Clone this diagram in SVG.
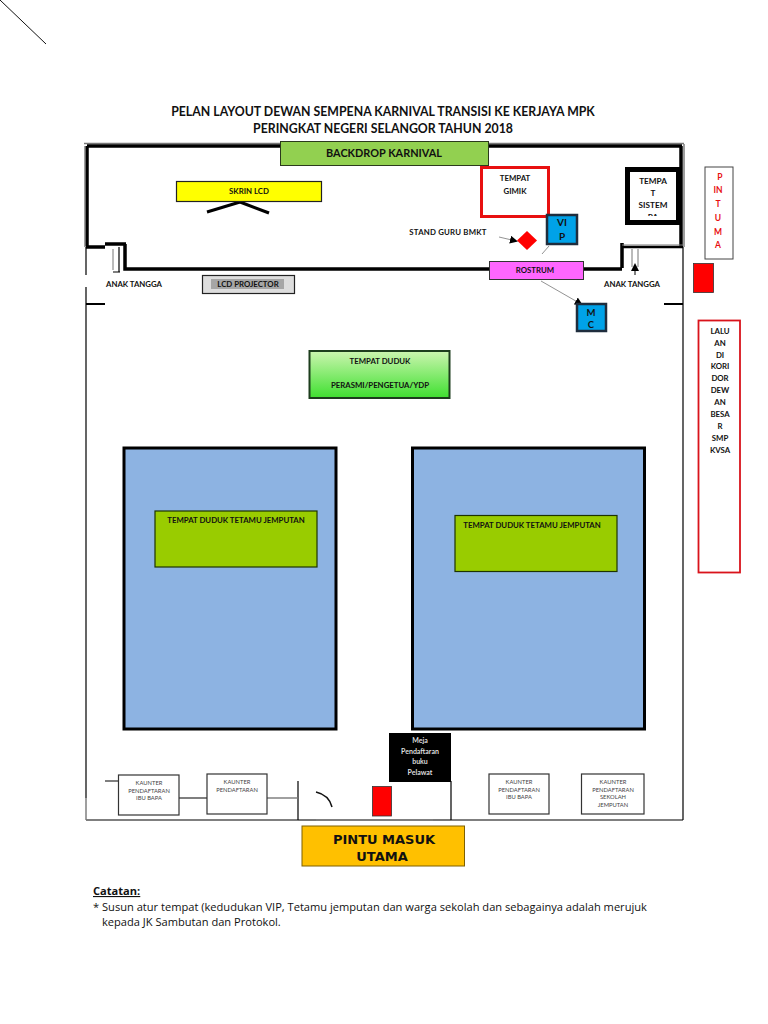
<svg xmlns="http://www.w3.org/2000/svg" width="768" height="1024" viewBox="0 0 768 1024">
<style>
text{font-family:"Lato","Liberation Sans",sans-serif;text-anchor:middle;fill:#111}
.b{font-weight:700}
.w{stroke:#000;fill:none;stroke-width:4}
.t{stroke:#000;fill:none;stroke-width:1.2}
.g{stroke:#777;fill:none;stroke-width:1.4}
.k{fill:#fff;stroke:#333;stroke-width:1.2}
.kt{font-size:5.8px;fill:#444}
.sm{font-size:7.800px;font-weight:700}
.hall{fill:#8db3e2;stroke:#000;stroke-width:3}
.seat{fill:#99cc00;stroke:#1d3300;stroke-width:1.2}
.blue{fill:#00a2e8;stroke:#1f2d3d;stroke-width:2.5}
.cat{text-anchor:start;font-family:"Open Sans",sans-serif;font-size:11.100px}
.red{fill:#e81010}
.mj{fill:#ddd}
.dj{font-family:"DejaVu Sans",sans-serif}
</style>
<defs>
<marker id="a" markerWidth="8" markerHeight="8" refX="6" refY="4" orient="auto" markerUnits="userSpaceOnUse"><path d="M0 0L8 4L0 8Z" fill="#000"/></marker>
<clipPath id="c"><rect x="630" y="172" width="47" height="44"/></clipPath>
<linearGradient id="gr" x1="0" y1="0" x2="0" y2="1"><stop offset="0" stop-color="#ccf5b0"/><stop offset="1" stop-color="#3fe030"/></linearGradient>
</defs>
<g id="connectors">
<line x1="0" y1="0" x2="46" y2="44" stroke="#111" stroke-width="1"/>
<path class="g" d="M84 143.500H280M489 143.500H684"/>
<path class="w" style="stroke-width:3.500" d="M87 146H280M489 146H682M87 146V246M681 146V247"/>
<path class="g" d="M85 146V247M684 144V247"/>
<path class="w" style="stroke-width:3.500" d="M86 247H105M105 244H126M125 244V269H622M622 243V268"/>
<path class="w" style="stroke-width:2.500" d="M622 247H683"/>
<path class="g" style="stroke-width:1" d="M622 245H683M113 249V270M632 249V267M638 249V267"/>
<path class="t" d="M119 247V272M113 272H120"/>
<path class="t" d="M86 247V275M86 287V798M86 820H683M683 247V820"/>
<path class="g" d="M86 798V820M298 820H316M433 820H451"/>
<path class="t" style="stroke-width:2" d="M86 304H105M664 304H683"/>
<path class="t" d="M105 781H119M179 798H207M298 781V820M451 781V820"/>
<path class="g" d="M267 798H298"/>
<path d="M316 792Q329 795 332 807" fill="none" stroke="#111" stroke-width="1.500"/>
<line x1="207" y1="212" x2="240" y2="202" stroke="#000" stroke-width="3"/>
<line x1="240" y1="202" x2="269" y2="213" stroke="#000" stroke-width="3"/>
<line x1="499" y1="237" x2="516" y2="241" stroke="#777" stroke-width="0.800" marker-end="url(#a)"/>
<line x1="549" y1="246" x2="542" y2="254" stroke="#777" stroke-width="0.800"/>
<line x1="541" y1="281" x2="581" y2="304" stroke="#777" stroke-width="0.800" marker-end="url(#a)"/>
<line x1="635" y1="275" x2="635" y2="265" stroke="#000" stroke-width="1" marker-end="url(#a)"/>
</g>
<g id="title">
<text class="b" x="383" y="116" font-size="12.300">PELAN LAYOUT DEWAN SEMPENA KARNIVAL TRANSISI KE KERJAYA MPK</text>
<text class="b" x="383" y="133" font-size="12.300">PERINGKAT NEGERI SELANGOR TAHUN 2018</text>
</g>
<g id="backdrop"><rect x="280.500" y="141.500" width="208" height="24" fill="#92d050" stroke="#2b3a1c" stroke-width="1"/><text class="b" x="384" y="157" font-size="10.900">BACKDROP KARNIVAL</text></g>
<g id="skrin"><rect x="176.500" y="181.500" width="145" height="20" fill="#ffff00" stroke="#222" stroke-width="1.200"/><text class="sm" x="249" y="194">SKRIN LCD</text></g>
<g id="gimik"><rect x="481.500" y="167.500" width="67" height="49" fill="#fff" stroke="#e81010" stroke-width="3"/><text class="sm" x="515" y="181">TEMPAT</text><text class="sm" x="515" y="193.500">GIMIK</text></g>
<g id="sistem"><rect x="627.500" y="169.500" width="51" height="53" fill="#fff" stroke="#000" stroke-width="5"/><g clip-path="url(#c)"><text class="b" font-size="8.200" x="653" y="184">TEMPA</text><text class="b" font-size="8.200" x="653" y="196">T</text><text class="b" font-size="8.200" x="653" y="208">SISTEM</text><text class="b" font-size="8.200" x="653" y="220">PA</text></g></g>
<g id="vip"><rect x="547" y="215" width="30" height="29" class="blue"/><text class="b" x="562" y="226" font-size="10">VI</text><text class="b" x="562" y="240" font-size="10">P</text></g>
<g id="stand"><text class="sm" x="448" y="235" letter-spacing=".2">STAND GURU BMKT</text><polygon points="527,231 537,240.500 527,250 517,240.500" fill="#ff0000"/></g>
<g id="rostrum"><rect x="489.500" y="261.500" width="94" height="18" fill="#ff66ff" stroke="#333" stroke-width="1"/><text class="sm" x="535" y="272.500">ROSTRUM</text></g>
<g id="mc"><rect x="577" y="304" width="29" height="27" class="blue"/><text class="b" x="591" y="316" font-size="9.500">M</text><text class="b" x="591" y="328" font-size="9.500">C</text></g>
<g id="anak1"><text class="sm" x="134" y="287">ANAK TANGGA</text></g>
<g id="anak2"><text class="sm" x="632" y="287">ANAK TANGGA</text></g>
<g id="lcd"><rect x="202.500" y="275.500" width="92" height="18" fill="#ddd" stroke="#222" stroke-width="1.200"/><rect x="211" y="279" width="73" height="10" fill="#a6a6a6"/><text class="sm" x="248" y="287">LCD PROJECTOR</text></g>
<g id="perasmi"><rect x="309.500" y="351" width="140" height="47" fill="url(#gr)" stroke="#1d3d1d" stroke-width="2"/><text class="sm" x="380" y="364">TEMPAT DUDUK</text><text class="sm" x="380" y="388">PERASMI/PENGETUA/YDP</text></g>
<g id="hall1"><rect x="124" y="448" width="212" height="281" class="hall"/><rect x="155" y="511" width="162" height="56" class="seat"/><text class="sm" x="236" y="523">TEMPAT DUDUK TETAMU JEMPUTAN</text></g>
<g id="hall2"><rect x="412.500" y="448" width="232" height="281" class="hall"/><rect x="455" y="515.500" width="162" height="56" class="seat"/><text class="sm" x="532" y="528">TEMPAT DUDUK TETAMU JEMPUTAN</text></g>
<g id="meja"><rect x="389" y="733" width="62" height="49" fill="#000"/><g font-size="7" font-weight="700"><text class="mj" x="420" y="743">Meja</text><text class="mj" x="420" y="754">Pendaftaran</text><text class="mj" x="420" y="764">buku</text><text class="mj" x="420" y="775">Pelawat</text></g></g>
<g id="k1"><rect x="118.500" y="775" width="60.500" height="40" class="k"/><text class="kt" x="149" y="785">KAUNTER</text><text class="kt" x="149" y="793">PENDAFTARAN</text><text class="kt" x="149" y="800">IBU BAPA</text></g>
<g id="k2"><rect x="207" y="774" width="60" height="40" class="k"/><text class="kt" x="237" y="784">KAUNTER</text><text class="kt" x="237" y="792">PENDAFTARAN</text></g>
<g id="k3"><rect x="489" y="774" width="60" height="40" class="k"/><text class="kt" x="519" y="784">KAUNTER</text><text class="kt" x="519" y="792">PENDAFTARAN</text><text class="kt" x="519" y="799">IBU BAPA</text></g>
<g id="k4"><rect x="581.500" y="774" width="62.500" height="40" class="k"/><text class="kt" x="613" y="784">KAUNTER</text><text class="kt" x="613" y="792">PENDAFTARAN</text><text class="kt" x="613" y="799">SEKOLAH</text><text class="kt" x="613" y="807">JEMPUTAN</text></g>
<g id="pintu-merah"><rect x="372.500" y="786.500" width="19" height="29.500" fill="#ff0000" stroke="#333" stroke-width="0.800"/></g>
<g id="pintu-masuk"><rect x="302" y="826" width="162.500" height="40" fill="#ffc000" stroke="#7f6000" stroke-width="1"/><g font-size="13" font-weight="700"><text class="dj" x="384" y="844">PINTU MASUK</text><text class="dj" x="382" y="861">UTAMA</text></g></g>
<g id="pintu-uma"><rect x="705" y="167" width="28" height="92" fill="#fff" stroke="#444" stroke-width="1"/><g font-size="8.500" font-weight="700"><text class="red" x="720" y="180">P</text><text class="red" x="718" y="193">IN</text><text class="red" x="718" y="207">T</text><text class="red" x="718" y="221">U</text><text class="red" x="718" y="235">M</text><text class="red" x="718" y="248">A</text></g></g>
<g id="red-door"><rect x="693.500" y="263.500" width="20" height="29" fill="#ff0000" stroke="#333" stroke-width="0.800"/></g>
<g id="laluan"><rect x="698.500" y="320.500" width="41.500" height="252" fill="#fff" stroke="#d9131b" stroke-width="1.800"/><g font-size="7.800" font-weight="700"><text x="720" y="334">LALU</text><text x="720" y="346">AN</text><text x="720" y="358">DI</text><text x="720" y="369">KORI</text><text x="720" y="381">DOR</text><text x="720" y="393">DEW</text><text x="720" y="405">AN</text><text x="720" y="417">BESA</text><text x="720" y="429">R</text><text x="720" y="441">SMP</text><text x="720" y="453">KVSA</text></g></g>
<g id="catatan"><text class="cat" x="93" y="895" font-weight="700" text-decoration="underline">Catatan:</text><text class="cat" x="93" y="911">* Susun atur tempat (kedudukan VIP, Tetamu jemputan dan warga sekolah dan sebagainya adalah merujuk</text><text class="cat" x="102" y="926">kepada JK Sambutan dan Protokol.</text></g>
</svg>
